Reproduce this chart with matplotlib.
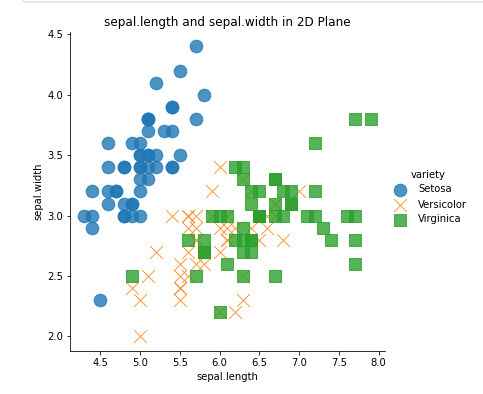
import matplotlib
matplotlib.use("Agg")
import matplotlib.pyplot as plt
from matplotlib.patches import FancyBboxPatch

setosa_len = [5.1,4.9,4.7,4.6,5.0,5.4,4.6,5.0,4.4,4.9,5.4,4.8,4.8,4.3,5.8,5.7,5.4,5.1,5.7,5.1,
              5.4,5.1,4.6,5.1,4.8,5.0,5.0,5.2,5.2,4.7,4.8,5.4,5.2,5.5,4.9,5.0,5.5,4.9,4.4,5.1,
              5.0,4.5,4.4,5.0,5.1,4.8,5.1,4.6,5.3,5.0]
setosa_wid = [3.5,3.0,3.2,3.1,3.6,3.9,3.4,3.4,2.9,3.1,3.7,3.4,3.0,3.0,4.0,4.4,3.9,3.5,3.8,3.8,
              3.4,3.7,3.6,3.3,3.4,3.0,3.4,3.5,3.4,3.2,3.1,3.4,4.1,4.2,3.1,3.2,3.5,3.6,3.0,3.4,
              3.5,2.3,3.2,3.5,3.8,3.0,3.8,3.2,3.7,3.3]
versicolor_len = [7.0,6.4,6.9,5.5,6.5,5.7,6.3,4.9,6.6,5.2,5.0,5.9,6.0,6.1,5.6,6.7,5.6,5.8,6.2,5.6,
                  5.9,6.1,6.3,6.1,6.4,6.6,6.8,6.7,6.0,5.7,5.5,5.5,5.8,6.0,5.4,6.0,6.7,6.3,5.6,5.5,
                  5.5,6.1,5.8,5.0,5.6,5.7,5.7,6.2,5.1,5.7]
versicolor_wid = [3.2,3.2,3.1,2.3,2.8,2.8,3.3,2.4,2.9,2.7,2.0,3.0,2.2,2.9,2.9,3.1,3.0,2.7,2.2,2.5,
                  3.2,2.8,2.5,2.8,2.9,3.0,2.8,3.0,2.9,2.6,2.4,2.4,2.7,2.7,3.0,3.4,3.1,2.3,3.0,2.5,
                  2.6,3.0,2.6,2.3,2.7,3.0,2.9,2.9,2.5,2.8]
virginica_len = [6.3,5.8,7.1,6.3,6.5,7.6,4.9,7.3,6.7,7.2,6.5,6.4,6.8,5.7,5.8,6.4,6.5,7.7,7.7,6.0,
                 6.9,5.6,7.7,6.3,6.7,7.2,6.2,6.1,6.4,7.2,7.4,7.9,6.4,6.3,6.1,7.7,6.3,6.4,6.0,6.9,
                 6.7,6.9,5.8,6.8,6.7,6.7,6.3,6.5,6.2,5.9]
virginica_wid = [3.3,2.7,3.0,2.9,3.0,3.0,2.5,2.9,2.5,3.6,3.2,2.7,3.0,2.5,2.8,3.2,3.0,3.8,2.6,2.2,
                 3.2,2.8,2.8,2.7,3.3,3.2,2.8,3.0,2.8,3.0,2.8,3.8,2.8,2.8,2.6,3.0,3.4,3.1,3.0,3.1,
                 3.1,3.1,2.7,3.2,3.3,3.0,2.5,3.0,3.4,3.0]

varieties = ["Setosa", "Versicolor", "Virginica"]
colors = ["#1f77b4", "#ff7f0e", "#2ca02c"]
markers = ["o", "x", "s"]
data = [(setosa_len, setosa_wid), (versicolor_len, versicolor_wid), (virginica_len, virginica_wid)]

DPI = 72
fig = plt.figure(figsize=(483 / DPI, 394 / DPI), dpi=DPI)
ax = fig.add_axes([70 / 483, 1 - 351 / 394, 315 / 483, 319 / 394])

for name, (xs, ys), c, m in zip(varieties, data, colors, markers):
    ax.scatter(xs, ys, s=160, c=c, marker=m, alpha=0.8, linewidths=1, label=name)

ax.spines["top"].set_visible(False)
ax.spines["right"].set_visible(False)
ax.set_xlabel("sepal.length")
ax.set_ylabel("sepal.width")
ax.set_title("sepal.length and sepal.width in 2D Plane", fontsize=12)

handles, labels = ax.get_legend_handles_labels()
fig.legend(handles, labels, title="variety", loc="center left",
           bbox_to_anchor=(381 / 483, 0.5), frameon=False)

fig.patches.append(FancyBboxPatch((20 / 483, 1 - 2 / 394), 1.2, 0.2,
                                  boxstyle="round,pad=0,rounding_size=0.01",
                                  transform=fig.transFigure, facecolor="none",
                                  edgecolor="#d0d0d0", linewidth=1, figure=fig))

fig.savefig("out.png", dpi=DPI)
